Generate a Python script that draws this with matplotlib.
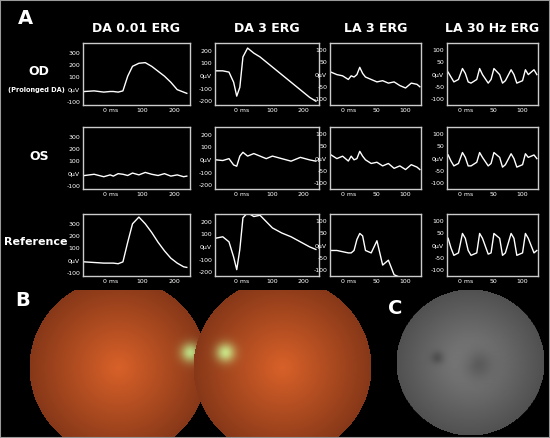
import numpy as np
import matplotlib.pyplot as plt

W, H = 550, 438
# ---- data ----
cols = ["DA 0.01 ERG", "DA 3 ERG", "LA 3 ERG", "LA 30 Hz ERG"]
rows = ["OD", "OS", "Reference"]
da001_t = [-80, -50, -20, 0, 10, 25, 40, 55, 70, 90, 110, 130, 150, 170, 190, 210, 230, 240]
da001_od = [-15, -10, -20, -15, -15, -20, -10, 110, 190, 215, 220, 190, 150, 110, 60, 0, -20, -30]
da001_os = [-15, -5, -25, -10, -20, 0, -5, -15, 5, -10, 10, -5, -15, 0, -20, -10, -25, -20]
da001_ref = [-10, -15, -20, -20, -20, -25, -10, 150, 300, 355, 300, 230, 150, 80, 20, -20, -50, -55]
da3_t = [-80, -60, -40, -25, -15, -5, 5, 20, 40, 60, 80, 100, 130, 160, 190, 220, 240]
da3_od = [40, 40, 30, -50, -160, -90, 150, 220, 180, 150, 110, 70, 10, -50, -110, -170, -200]
da3_os = [0, -5, 10, -40, -50, 30, 60, 30, 50, 30, 10, 30, 10, -10, 20, 0, -10]
da3_ref = [70, 80, 40, -80, -180, -20, 230, 270, 240, 250, 200, 150, 110, 80, 40, 0, -20]
la_t = [-30, -20, -10, 0, 5, 10, 15, 20, 25, 30, 40, 50, 60, 70, 80, 90, 100, 110, 120, 125]
la3_od = [10, 0, -5, -20, -5, -10, 0, 30, 5, -10, -20, -30, -25, -35, -30, -45, -55, -35, -40, -50]
la3_os = [15, 0, 10, -10, 10, -5, 0, 30, 10, -5, -20, -15, -30, -20, -40, -30, -45, -25, -35, -45]
la3_ref = [-20, -20, -25, -30, -30, -20, 25, 50, 40, -20, -30, 20, -80, -60, -120, -130, np.nan, np.nan, np.nan, np.nan]
la30_t = [-30, -25, -20, -12, -5, 0, 5, 10, 20, 25, 30, 40, 45, 50, 60, 65, 70, 80, 85, 90, 100, 105, 110, 120, 125]
la30_od = [10, -10, -30, -20, 25, 5, -30, -35, -20, 25, 0, -35, -20, 25, 0, -35, -25, 20, 0, -35, -25, 20, 0, 20, 0]
la30_os = [15, -10, -30, -20, 25, 5, -30, -30, -15, 25, 5, -30, -20, 25, 5, -35, -25, 20, 0, -35, -25, 20, 5, 15, 0]
la30_ref = [30, -10, -40, -30, 50, 30, -20, -40, -30, 50, 30, -35, -30, 50, 30, -40, -30, 50, 30, -40, -30, 50, 30, -30, -20]

traces = {
    (0, 0): (da001_t, da001_od), (1, 0): (da001_t, da001_os), (2, 0): (da001_t, da001_ref),
    (0, 1): (da3_t, da3_od), (1, 1): (da3_t, da3_os), (2, 1): (da3_t, da3_ref),
    (0, 2): (la_t, la3_od), (1, 2): (la_t, la3_os), (2, 2): (la_t, la3_ref),
    (0, 3): (la30_t, la30_od), (1, 3): (la30_t, la30_os), (2, 3): (la30_t, la30_ref),
}
yticks = [[300, 200, 100, 0, -100], [200, 100, 0, -100, -200], [100, 50, 0, -50, -100], [100, 50, 0, -50, -100]]
ylims = [(-125, 380), (-230, 260), (-125, 130), (-125, 130)]
xticks = [[0, 100, 200], [0, 100, 200], [0, 50, 100], [0, 50, 100]]
xlims = [(-85, 250), (-85, 250), (-32, 127), (-32, 127)]

fig = plt.figure(figsize=(5.5, 4.38), dpi=100, facecolor="black")
def ax_px(x, y, w, h):
    return fig.add_axes([x / W, 1 - (y + h) / H, w / W, h / H])

col_x = [83, 215, 330, 447]
col_w = [107, 104, 91, 91]
row_y = [43, 127, 214]
row_h = 62
for (r, c), (t, v) in traces.items():
    ax = ax_px(col_x[c], row_y[r], col_w[c], row_h)
    ax.set_facecolor("black")
    ax.plot(t, v, color="white", lw=1)
    ax.set_xlim(xlims[c]); ax.set_ylim(ylims[c])
    ax.set_yticks(yticks[c])
    ax.set_yticklabels([("0µV" if v == 0 else str(v)) for v in yticks[c]])
    ax.set_xticks(xticks[c])
    ax.set_xticklabels([("0 ms" if v == 0 else str(v)) for v in xticks[c]])
    ax.tick_params(colors="white", labelsize=4.5, length=0, pad=2)
    for s in ax.spines.values():
        s.set_color("#cccccc"); s.set_linewidth(1)

for c, name in enumerate(cols):
    fig.text((col_x[c] + col_w[c] / 2) / W, 1 - 28 / H, name, color="white",
             fontsize=9, fontweight="bold", ha="center", va="center")
fig.text(39 / W, 1 - 75 / H, "OD", color="white", fontsize=9, fontweight="bold", ha="center")
fig.text(36 / W, 1 - 92 / H, "(Prolonged DA)", color="white", fontsize=4.8, fontweight="bold", ha="center")
fig.text(39 / W, 1 - 160 / H, "OS", color="white", fontsize=9, fontweight="bold", ha="center")
fig.text(36 / W, 1 - 245 / H, "Reference", color="white", fontsize=8, fontweight="bold", ha="center")
fig.text(18 / W, 1 - 18 / H, "A", color="white", fontsize=14, fontweight="bold", va="center")
fig.text(15 / W, 1 - 300 / H, "B", color="white", fontsize=14, fontweight="bold", va="center")
fig.text(388 / W, 1 - 308 / H, "C", color="white", fontsize=14, fontweight="bold", va="center")

# fundus photographs (synthetic rendering), drawn in pixel space
fw, fh = 360, 148
yy, xx = np.mgrid[0:fh, 0:fw]
img = np.zeros((fh, fw, 3))
for cx, disc_x in [(93, 165), (257, 200)]:
    d = np.hypot(xx - cx, yy - 77)
    inside = d < 89
    shade = np.clip(1 - d / 110, 0, 1)
    disc = np.exp(-((xx - disc_x) ** 2 + (yy - 62) ** 2) / 90)
    r = 0.45 + 0.4 * shade + 0.15 * disc
    g = 0.18 + 0.2 * shade + 0.6 * disc
    b = 0.08 + 0.08 * shade + 0.4 * disc
    for k, ch in enumerate([r, g, b]):
        img[..., k] = np.where(inside, ch, img[..., k])
axb = ax_px(25, 290, fw, fh)
axb.imshow(np.clip(img, 0, 1), aspect="auto")
axb.axis("off")

yy, xx = np.mgrid[0:150, 0:150]
d = np.hypot(xx - 73, yy - 73)
g = 0.3 + 0.2 * np.clip(1 - d / 80, 0, 1) - 0.12 * np.exp(-((xx - 80) ** 2 + (yy - 75) ** 2) / 200) \
    - 0.1 * np.exp(-((xx - 40) ** 2 + (yy - 68) ** 2) / 40)
gimg = np.where(d < 74, g, 0)
axc = ax_px(397, 290, 150, 148)
axc.imshow(gimg, cmap="gray", vmin=0, vmax=1, aspect="auto")
axc.axis("off")

fig.patches.append(plt.Rectangle((0, 0), 1, 1, transform=fig.transFigure,
                                 fill=False, edgecolor="#999999", lw=1.5))
fig.savefig("out.png", dpi=100, facecolor="black")
